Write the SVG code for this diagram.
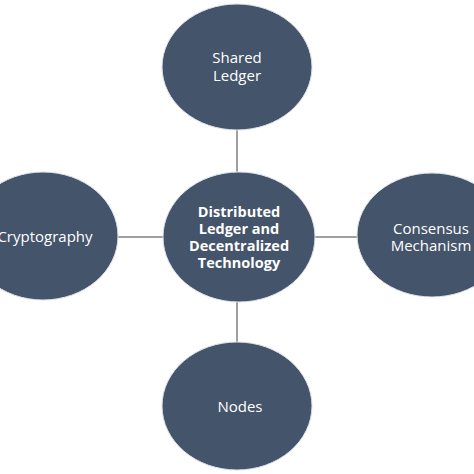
<svg xmlns="http://www.w3.org/2000/svg" width="474" height="474" viewBox="0 0 474 474">
<style>
.node{fill:#44546a;stroke:#dfe3ea;stroke-width:1}
.lbl{fill:#ffffff;font-family:"Open Sans","Noto Sans",sans-serif;font-size:15px;text-anchor:middle}
.bold{font-weight:bold;font-size:14.5px}
.conn{stroke:#7f7f7f;stroke-width:1.5;fill:none}
</style>
<rect width="474" height="474" fill="#ffffff"/>
<g id="connectors">
<line class="conn" x1="237" y1="130" x2="237" y2="172"/>
<line class="conn" x1="237" y1="302" x2="237" y2="342"/>
<line class="conn" x1="118" y1="237" x2="163" y2="237"/>
<line class="conn" x1="315" y1="237" x2="357" y2="237"/>
</g>
<g id="shared-ledger">
<ellipse class="node" cx="237" cy="67" rx="75" ry="63"/>
<text class="lbl" x="237" y="63">Shared</text>
<text class="lbl" x="237" y="81">Ledger</text>
</g>
<g id="center">
<ellipse class="node" cx="239" cy="237" rx="76" ry="65"/>
<text class="lbl bold" x="239" y="217">Distributed</text>
<text class="lbl bold" x="239" y="234">Ledger and</text>
<text class="lbl bold" x="239" y="251">Decentralized</text>
<text class="lbl bold" x="239" y="268">Technology</text>
</g>
<g id="cryptography">
<ellipse class="node" cx="43" cy="236" rx="75" ry="64"/>
<text class="lbl" x="45" y="242">Cryptography</text>
</g>
<g id="consensus">
<ellipse class="node" cx="432" cy="235" rx="75" ry="62"/>
<text class="lbl" x="431" y="234">Consensus</text>
<text class="lbl" x="431" y="251">Mechanism</text>
</g>
<g id="nodes">
<ellipse class="node" cx="237" cy="406" rx="75" ry="64"/>
<text class="lbl" x="240" y="412">Nodes</text>
</g>
</svg>
